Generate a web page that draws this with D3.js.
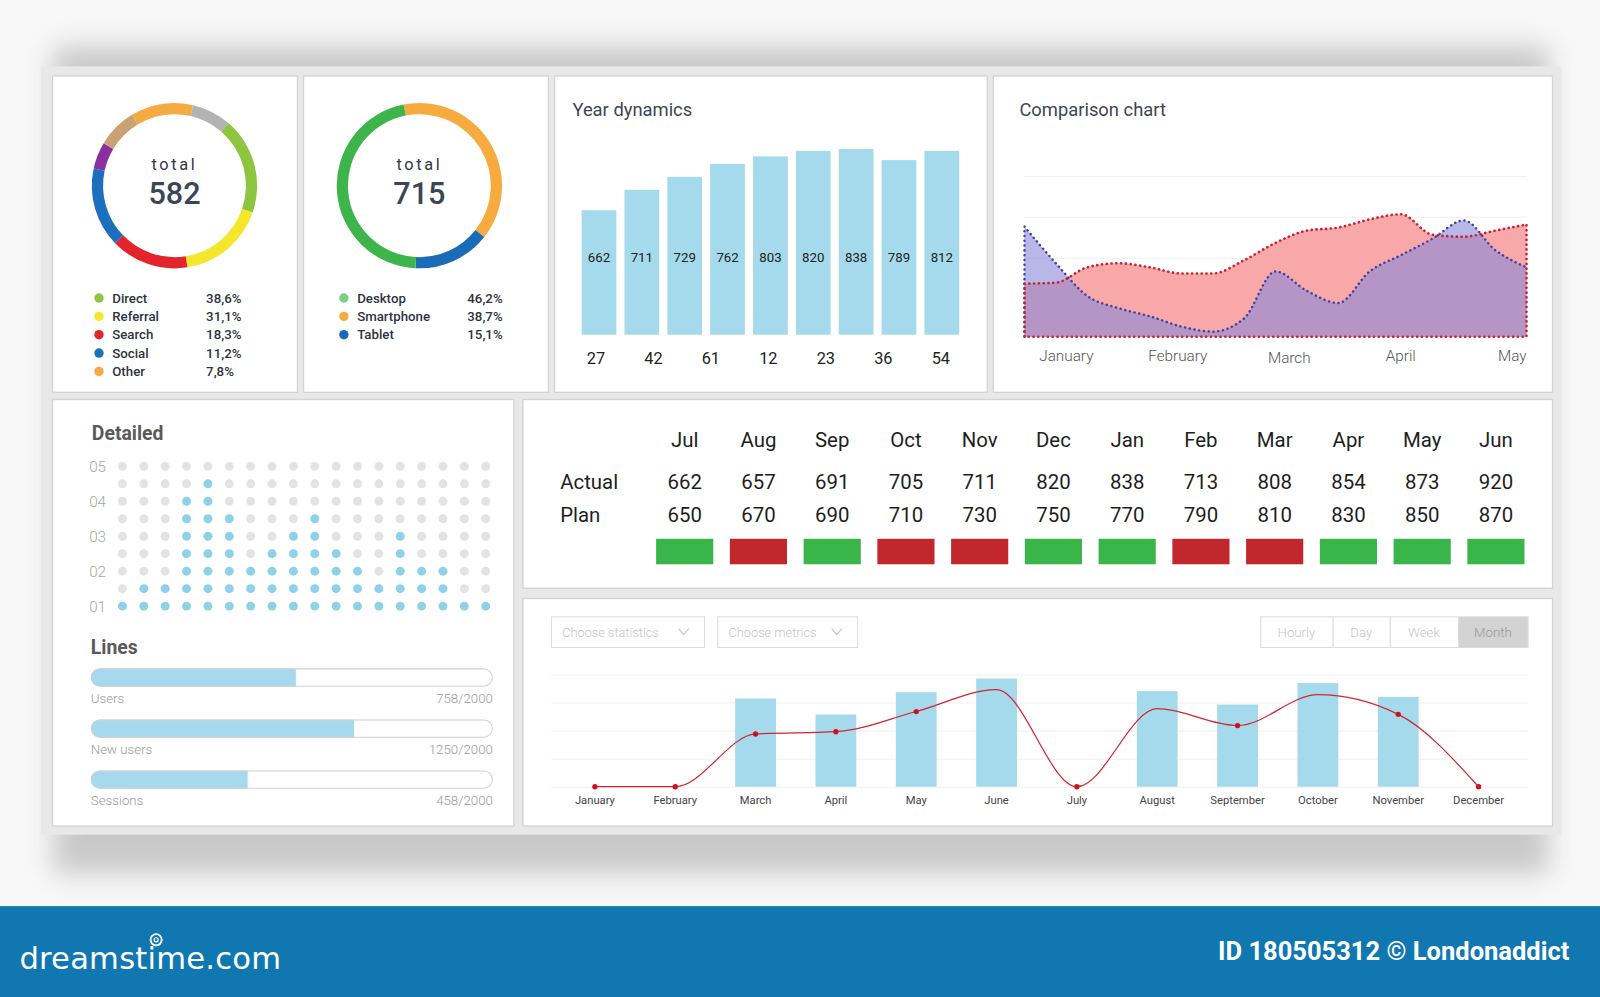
<!DOCTYPE html>
<html><head><meta charset="utf-8">
<script src="https://cdn.jsdelivr.net/npm/d3@7"></script>
<style>
html,body{margin:0;padding:0;background:#f8f8f8;overflow:hidden;}
svg{display:block;font-family:Roboto,"Noto Sans",sans-serif;}
</style></head><body>
<svg id="c" width="1600" height="997"></svg>
<script>
// ---------------- DATA ----------------
const ring1Arcs = [44, 28, 68, 62, 55, 56, 19, 28];          // arc sizes (deg) as drawn
const ring1Colors = ["#f6aa42","#b3b3b3","#8dc540","#f4e62b","#e2252c","#1b6fbd","#8b2f9f","#c9a274"];
const ring1Total = "582";
const trafficSources = ["Direct","Referral","Search","Social","Other"];
const trafficShares = ["38,6%","31,1%","18,3%","11,2%","7,8%"];
const trafficColors = ["#8dc540","#f4e62b","#e2252c","#1b6fbd","#f6aa42"];

const deviceNames = ["Desktop","Smartphone","Tablet"];
const deviceShareValues = [46.2, 38.7, 15.1];
const deviceShares = ["46,2%","38,7%","15,1%"];
const deviceColors = ["#3db54b","#f7aa3d","#1b6cb8"];
const deviceDotColors = ["#7ccf86","#f7aa3d","#1b6cb8"];
const deviceRingOrder = [1, 2, 0];   // clockwise from top: Smartphone, Tablet, Desktop
const ring2Total = "715";

const yearLabels = [662, 711, 729, 762, 803, 820, 838, 789, 812];
const yearLevels = [67, 78, 85, 92, 96, 99, 100, 94, 99];
const yearTicks = ["27","42","61","12","23","36","54"];

const compMonths = ["January","February","March","April","May"];
const compRed  = [52, 53, 68, 72, 68, 62, 62, 75, 92, 104, 107, 115, 120, 100, 98, 104, 110];
const compBlue = [108, 72, 40, 28, 20, 10, 5, 18, 64, 45, 33, 64, 80, 96, 114, 85, 68];
const compGrid = [40, 80, 120, 160];

const dotColumns = [1,2,2,7,8,6,3,4,5,6,4,3,2,5,3,3,1,1];
const dotRowLabels = ["05","","04","","03","","02","","01"];

const lineNames = ["Users","New users","Sessions"];
const lineTexts = ["758/2000","1250/2000","458/2000"];
const lineShares = [0.51, 0.655, 0.39];

const tableMonths = ["Jul","Aug","Sep","Oct","Nov","Dec","Jan","Feb","Mar","Apr","May","Jun"];
const actual = [662,657,691,705,711,820,838,713,808,854,873,920];
const plan   = [650,670,690,710,730,750,770,790,810,830,850,870];

const monthsFull = ["January","February","March","April","May","June","July","August","September","October","November","December"];
const barValues  = [0, 0, 78.6, 64.3, 84.2, 96.4, 0, 85.1, 73.2, 92.3, 80.1, 0];
const lineValues = [0, 0, 47, 49, 67, 86.5, 0, 69.5, 54.5, 82, 64.5, 0];
const lineMarked = [1,1,1,1,1,0,1,0,1,0,1,1];
const periodButtons = ["Hourly","Day","Week","Month"];
const dropdowns = ["Choose statistics","Choose metrics"];

// ---------------- DRAW ----------------
const svgRoot = d3.select("#c");
const defs = svgRoot.append("defs");
const blur = defs.append("filter").attr("id","sh").attr("x","-10%").attr("y","-20%").attr("width","120%").attr("height","140%");
blur.append("feGaussianBlur").attr("stdDeviation", 13);
svgRoot.append("rect").attr("width",1600).attr("height",997).attr("fill","#f8f8f8");
const svg = svgRoot.append("g").attr("transform","scale(" + (1600/1568) + ")");

// dashboard frame with shadow
svg.append("rect").attr("x",52).attr("y",46).attr("width",1466).attr("height",810)
  .attr("fill","#9a9a9a").attr("opacity",0.5).attr("filter","url(#sh)");
svg.append("rect").attr("x",40).attr("y",65).attr("width",1490).attr("height",753).attr("fill","#e8e8e8");

function panel(x,y,w,h){
  svg.append("rect").attr("x",x+0.5).attr("y",y+0.5).attr("width",w).attr("height",h)
    .attr("fill","#fff").attr("stroke","#d3d3d3").attr("stroke-width",1.3);
}
panel(51,74,240,310);
panel(297,74,240,310);
panel(543,74,424,310);
panel(973,74,548,310);
panel(51,391,452,418);
panel(512,391,1009,185);
panel(512,586,1009,223);

// ---- donuts ----
function donut(cx, cy, values, colors, startDeg, total){
  const g = svg.append("g").attr("transform",`translate(${cx},${cy})`);
  const pie = d3.pie().sort(null).value(d=>d)
    .startAngle(startDeg*Math.PI/180).endAngle((startDeg+360)*Math.PI/180);
  const arc = d3.arc().innerRadius(70).outerRadius(81);
  g.selectAll("path").data(pie(values)).join("path").attr("d",arc).attr("fill",(d,i)=>colors[i]);
  g.append("text").attr("y",-15).attr("text-anchor","middle").attr("font-size",16)
    .attr("letter-spacing",2.6).attr("fill","#2f3844").text("total");
  g.append("text").attr("y",18).attr("text-anchor","middle").attr("font-size",30)
    .attr("font-weight",500).attr("fill","#3a4658").text(total);
}
donut(171, 182, ring1Arcs, ring1Colors, -31, ring1Total);
donut(411, 182, deviceRingOrder.map(i=>deviceShareValues[i]), deviceRingOrder.map(i=>deviceColors[i]), -11, ring2Total);

function legend(x0, names, shares, colors, pctX){
  const y = d3.scalePoint().domain(d3.range(names.length)).range([292, 292+18*(names.length-1)]);
  const g = svg.append("g");
  names.forEach((n,i)=>{
    g.append("circle").attr("cx",x0).attr("cy",y(i)).attr("r",4.6).attr("fill",colors[i]);
    g.append("text").attr("x",x0+13).attr("y",y(i)+4.6).attr("font-size",13).attr("font-weight",500)
      .attr("fill","#2d3440").text(n);
    g.append("text").attr("x",pctX).attr("y",y(i)+4.6).attr("font-size",13).attr("font-weight",500)
      .attr("fill","#2d3440").text(shares[i]);
  });
}
legend(97, trafficSources, trafficShares, trafficColors, 202);
legend(337, deviceNames, deviceShares, deviceDotColors, 458);

// ---- Year dynamics ----
svg.append("text").attr("x",561).attr("y",114).attr("font-size",18).attr("fill","#3d4652").text("Year dynamics");
const yx = d3.scaleBand().domain(d3.range(yearLabels.length)).range([570,940]).paddingInner(0.19).paddingOuter(0);
const yy = d3.scaleLinear().domain([0,100]).range([328,146]);
const yg = svg.append("g");
yg.selectAll("rect").data(yearLevels).join("rect")
  .attr("x",(d,i)=>yx(i)).attr("width",yx.bandwidth()).attr("y",d=>yy(d)).attr("height",d=>yy(0)-yy(d))
  .attr("fill","#a5d9ec");
yg.selectAll("text.v").data(yearLabels).join("text").attr("class","v")
  .attr("x",(d,i)=>yx(i)+yx.bandwidth()/2).attr("y",257).attr("text-anchor","middle")
  .attr("font-size",13).attr("fill","#222").text(d=>d);
const yt = d3.scalePoint().domain(yearTicks.map((d,i)=>i)).range([yx(0)+yx.bandwidth()/2-3, yx(8)+yx.bandwidth()/2-1]);
yg.selectAll("text.t").data(yearTicks).join("text").attr("class","t")
  .attr("x",(d,i)=>yt(i)).attr("y",357).attr("text-anchor","middle").attr("font-size",16).attr("fill","#222").text(d=>d);

// ---- Comparison chart ----
svg.append("text").attr("x",999).attr("y",114).attr("font-size",18).attr("fill","#3d4652").text("Comparison chart");
const cx = d3.scaleLinear().domain([0,compRed.length-1]).range([1004,1496]);
const cy = d3.scaleLinear().domain([0,160]).range([330,170]);
const cg = svg.append("g");
cg.selectAll("line.g").data(compGrid).join("line").attr("class","g")
  .attr("x1",1004).attr("x2",1496).attr("y1",d=>cy(d)+3).attr("y2",d=>cy(d)+3).attr("stroke","#efefef");
const areaGen = d3.area().x((d,i)=>cx(i)).y0(cy(0)).y1(d=>cy(d)).curve(d3.curveMonotoneX);
const lineGen = d3.line().x((d,i)=>cx(i)).y(d=>cy(d)).curve(d3.curveMonotoneX);
cg.append("path").attr("d",areaGen(compRed)).attr("fill","#f9a8aa");
cg.append("path").attr("d",areaGen(compBlue)).attr("fill","#8787d8").attr("fill-opacity",0.6);
cg.append("path").attr("d", `M${cx(0)},${cy(0)}L${cx(0)},${cy(compBlue[0])}` + lineGen(compBlue).replace(/^M/,"L"))
  .attr("fill","none").attr("stroke","#3f3f9e").attr("stroke-width",2.4).attr("stroke-dasharray","0.1,4.6").attr("stroke-linecap","round");
cg.append("path").attr("d",areaGen(compRed)).attr("fill","none").attr("stroke","#c8202e").attr("stroke-width",2.6)
  .attr("stroke-dasharray","0.1,4.6").attr("stroke-linecap","round");
const cm = d3.scalePoint().domain(compMonths).range([1045,1482]);
cg.selectAll("text.m").data(compMonths).join("text").attr("class","m")
  .attr("x",d=>cm(d)).attr("y",(d,i)=>i===2?356:354).attr("text-anchor","middle").attr("font-size",15)
  .attr("font-weight",300).attr("fill","#555").text(d=>d);

// ---- Detailed dot matrix ----
svg.append("text").attr("x",90).attr("y",431).attr("font-size",19).attr("font-weight",700).attr("fill","#5a5a5a").text("Detailed");
const dx = d3.scalePoint().domain(d3.range(dotColumns.length)).range([120,476]);
const dy = d3.scalePoint().domain(d3.range(dotRowLabels.length)).range([457,594]);
const cells = [];
dotColumns.forEach((h,c)=>{ dotRowLabels.forEach((l,r)=>{ cells.push({c, r, on: (dotRowLabels.length-1-r) < h}); }); });
svg.append("g").selectAll("circle").data(cells).join("circle")
  .attr("cx",d=>dx(d.c)).attr("cy",d=>dy(d.r)).attr("r",4.4)
  .attr("fill",d=>d.on?"#8fd1ea":"#e3e3e3");
svg.append("g").selectAll("text").data(dotRowLabels).join("text")
  .attr("x",104).attr("y",(d,i)=>dy(i)+5.5).attr("text-anchor","end").attr("font-size",15)
  .attr("font-weight",300).attr("fill","#a8a8a8").text(d=>d);

// ---- Lines ----
svg.append("text").attr("x",89).attr("y",641).attr("font-size",19).attr("font-weight",700).attr("fill","#5a5a5a").text("Lines");
const lx = d3.scaleLinear().domain([0,1]).range([89,483]);
const ly = d3.scalePoint().domain(d3.range(lineNames.length)).range([655,755]);
lineNames.forEach((n,i)=>{
  const y = ly(i);
  defs.append("clipPath").attr("id","lc"+i).append("rect").attr("x",lx(0)).attr("y",y).attr("width",lx(1)-lx(0)).attr("height",18).attr("rx",9);
  svg.append("rect").attr("x",lx(0)).attr("y",y).attr("width",lx(1)-lx(0)).attr("height",18).attr("rx",9).attr("fill","#fff");
  svg.append("rect").attr("x",lx(0)).attr("y",y).attr("width",lx(lineShares[i])-lx(0)).attr("height",18)
    .attr("fill","#a6d9ee").attr("clip-path",`url(#lc${i})`);
  svg.append("rect").attr("x",lx(0)+0.5).attr("y",y+0.5).attr("width",lx(1)-lx(0)-1).attr("height",17).attr("rx",8.5)
    .attr("fill","none").attr("stroke","#d0d0d0");
  svg.append("text").attr("x",lx(0)).attr("y",y+34).attr("font-size",13).attr("font-weight",300).attr("fill","#9a9a9a").text(n);
  svg.append("text").attr("x",lx(1)).attr("y",y+34).attr("text-anchor","end").attr("font-size",13).attr("font-weight",300).attr("fill","#9a9a9a").text(lineTexts[i]);
});

// ---- Actual vs plan table ----
const tx = d3.scalePoint().domain(tableMonths).range([671,1466]);
const tg = svg.append("g").attr("font-size",20).attr("fill","#1e1e1e");
tg.selectAll("text.h").data(tableMonths).join("text").attr("class","h").attr("x",d=>tx(d)).attr("y",438).attr("text-anchor","middle").text(d=>d);
tg.selectAll("text.a").data(actual).join("text").attr("class","a").attr("x",(d,i)=>tx(tableMonths[i])).attr("y",479).attr("text-anchor","middle").text(d=>d);
tg.selectAll("text.p").data(plan).join("text").attr("class","p").attr("x",(d,i)=>tx(tableMonths[i])).attr("y",512).attr("text-anchor","middle").text(d=>d);
tg.append("text").attr("x",549).attr("y",479).text("Actual");
tg.append("text").attr("x",549).attr("y",512).text("Plan");
svg.append("g").selectAll("rect").data(actual).join("rect")
  .attr("x",(d,i)=>tx(tableMonths[i])-28).attr("y",528).attr("width",56).attr("height",25)
  .attr("fill",(d,i)=>d>=plan[i]?"#39b54a":"#c1272d");

// ---- Bottom combo chart ----
const bg = svg.append("g");
const ddX = [540, 703], ddW = [150, 137];
dropdowns.forEach((t,i)=>{
  bg.append("rect").attr("x",ddX[i]+0.5).attr("y",604.5).attr("width",ddW[i]).attr("height",30).attr("fill","#fff").attr("stroke","#dcdcdc");
  bg.append("text").attr("x",ddX[i]+11).attr("y",624).attr("font-size",12.5).attr("font-weight",300).attr("fill","#c4c4c4").text(t);
  const ax = ddX[i]+ddW[i]-20;
  bg.append("path").attr("d",`M${ax-5},${616}L${ax},${622}L${ax+5},${616}`).attr("fill","none").attr("stroke","#c4c4c4").attr("stroke-width",1);
});
const pbX = d3.scaleOrdinal().domain(periodButtons).range([1235,1306,1362,1429]);
const pbW = [71,56,67,68];
periodButtons.forEach((t,i)=>{
  bg.append("rect").attr("x",pbX(t)+0.5).attr("y",604.5).attr("width",pbW[i]).attr("height",30)
    .attr("fill",i===3?"#d3d3d3":"#fff").attr("stroke","#dcdcdc");
  bg.append("text").attr("x",pbX(t)+pbW[i]/2).attr("y",624).attr("text-anchor","middle").attr("font-size",13)
    .attr("font-weight",300).attr("fill",i===3?"#9a9a9a":"#c4c4c4").text(t);
});
const bx = d3.scalePoint().domain(monthsFull).range([583,1449]);
const by = d3.scaleLinear().domain([0,100]).range([771,661]);
bg.selectAll("line.g").data([0,25,50,75,100]).join("line").attr("class","g")
  .attr("x1",540).attr("x2",1497).attr("y1",d=>by(d)+0.5).attr("y2",d=>by(d)+0.5).attr("stroke","#f0f0f0");
bg.selectAll("rect.b").data(barValues).join("rect").attr("class","b")
  .attr("x",(d,i)=>bx(monthsFull[i])-20).attr("width",40).attr("y",d=>by(d)).attr("height",d=>by(0)-by(d))
  .attr("fill","#a5d9ec");
const lg = d3.line().x((d,i)=>bx(monthsFull[i])).y(d=>by(d)).curve(d3.curveMonotoneX);
bg.append("path").attr("d",lg(lineValues)).attr("fill","none").attr("stroke","#d4252f").attr("stroke-width",1.2);
bg.selectAll("circle").data(lineValues.map((v,i)=>({v,i})).filter(d=>lineMarked[d.i])).join("circle")
  .attr("cx",d=>bx(monthsFull[d.i])).attr("cy",d=>by(d.v)).attr("r",2.6).attr("fill","#d0101c");
bg.selectAll("text.m").data(monthsFull).join("text").attr("class","m")
  .attr("x",d=>bx(d)).attr("y",788).attr("text-anchor","middle").attr("font-size",11).attr("fill","#444").text(d=>d);

// ---- Footer ----
svg.append("rect").attr("x",0).attr("y",888).attr("width",1600).attr("height",130).attr("fill","#1077b0");
svg.append("text").attr("x",19).attr("y",950).attr("font-size",30).attr("fill","#fff").attr("letter-spacing",0.2)
  .attr("font-family","'DejaVu Sans',sans-serif").attr("font-weight",400).text("dreamstime.com");
svg.append("circle").attr("cx",153).attr("cy",921).attr("r",5.5).attr("fill","none").attr("stroke","#fff").attr("stroke-width",1.8);
svg.append("circle").attr("cx",153).attr("cy",921).attr("r",2).attr("fill","none").attr("stroke","#fff").attr("stroke-width",1.2);
svg.append("text").attr("x",1538).attr("y",941).attr("text-anchor","end").attr("font-size",25).attr("font-weight",700)
  .attr("fill","#fff").text("ID 180505312 © Londonaddict");
</script>
</body></html>
